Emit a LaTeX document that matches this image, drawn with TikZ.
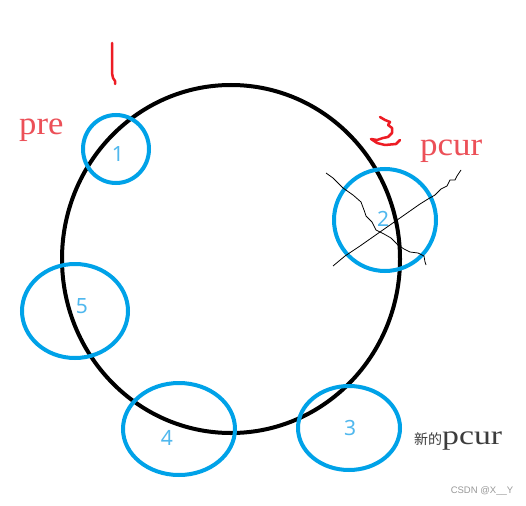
\documentclass[tikz,border=0pt]{standalone}
\usepackage{graphicx}
\usepackage{fontspec}
\setmainfont{Liberation Serif}
\newfontfamily\numfont{Noto Sans}
\newfontfamily\cjk{Noto Sans CJK SC}
\newfontfamily\wmfont{Liberation Sans}
\definecolor{pblue}{RGB}{0,162,232}
\definecolor{nblue}{RGB}{80,184,238}
\definecolor{pred}{RGB}{237,28,36}
\definecolor{tred}{RGB}{236,80,88}
\definecolor{tgrey}{RGB}{60,60,60}
\tikzset{
  ring/.style={draw=pblue, line width=4pt},
  numlabel/.style={text=nblue, font=\numfont\fontsize{21}{21}\selectfont, inner sep=0pt},
  redlabel/.style={text=tred, font=\fontsize{33}{33}\selectfont, inner sep=0pt, anchor=base west},
  redmark/.style={draw=pred, line width=2.5pt, line cap=round, line join=round},
  crossline/.style={draw=black, line width=0.8pt}
}
\begin{document}
\begin{tikzpicture}[x=1pt,y=-1pt]
\useasboundingbox[fill=white] (0,0) rectangle (526,505);
% big circle
\draw[line width=4pt] (231,259) ellipse [x radius=169, y radius=174];
% blue rings
\draw[ring] (116,149) ellipse [x radius=33, y radius=34];
\draw[ring] (385,220) ellipse [x radius=51, y radius=51];
\draw[ring] (75,311) ellipse [x radius=53, y radius=47];
\draw[ring] (179,429) ellipse [x radius=56, y radius=46];
\draw[ring] (349,428) ellipse [x radius=51, y radius=42];
% numbers
\node[numlabel] (n1) at (118,154) {1};
\node[numlabel] (n2) at (383,219) {2};
\node[numlabel] (n3) at (350,428) {3};
\node[numlabel] (n4) at (167,438) {4};
\node[numlabel] (n5) at (82,306) {5};
% labels
\node[redlabel] (pre) at (19,135) {\scalebox{1.05}[1]{pre}};
\node[redlabel] (pcur) at (420,155) {\scalebox{1.06}[1]{pcur}};
\node[inner sep=0pt, text=tgrey, anchor=base west] (newpcur) at (414,444)
  {{\cjk\fontsize{14}{14}\selectfont 新的}{\fontsize{27}{27}\selectfont\scalebox{1.25}[1]{pcur}}};
\node[inner sep=0pt, text=gray!80, font=\wmfont\fontsize{9.5}{9.5}\selectfont] (wm) at (482,491) {CSDN @X\_\_Y};
% red marks
\draw[redmark] (112,43) -- (112,73) -- (113,78) -- (115,81) -- (115,84);
\draw[redmark] (380,117) -- (385,120) -- (390,122) -- (388,125) -- (392,128) -- (392,133) -- (388,137) -- (383,138) -- (377,140) -- (371,139)
  -- (377,143) -- (385,145) -- (396,144) -- (400,140);
% cross lines
\draw[crossline] (326,173) -- (333,178) -- (343,188) -- (353,195) -- (361,202) -- (364,210) -- (366,216) -- (372,222) -- (376,230) -- (384,234) -- (391,238) -- (398,245) -- (404,249) -- (410,252) -- (418,253) -- (424,256) -- (425,262) -- (426,265);
\draw[crossline] (461,170) -- (457,176) -- (455,180) -- (450,180) -- (447,186) -- (441,189) -- (435,195) -- (428,199) -- (420,204) -- (400,218) -- (380,232) -- (360,246) -- (345,256) -- (333,266);
\end{tikzpicture}
\end{document}
